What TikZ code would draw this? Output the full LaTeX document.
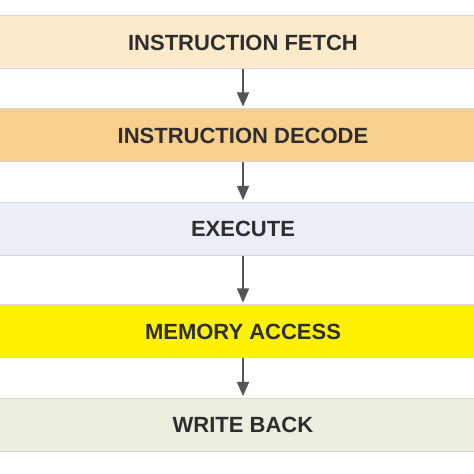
\documentclass[tikz,border=0pt]{standalone}
\usepackage{fontspec}
\setmainfont{Liberation Sans}
\usetikzlibrary{arrows.meta}
\definecolor{cfetch}{HTML}{FCEACB}
\definecolor{cdecode}{HTML}{F8D08E}
\definecolor{cexec}{HTML}{E9EEF7}
\definecolor{cmem}{HTML}{FFF200}
\definecolor{cwb}{HTML}{EAEFE0}
\definecolor{cborder}{HTML}{D4D8DC}
\definecolor{ctext}{HTML}{2E2E2E}
\definecolor{carrow}{HTML}{555555}
\newcommand{\stagetext}[1]{\hspace*{12pt}#1}
\tikzset{
  stage/.style={draw=cborder, line width=1pt, minimum width=478pt, minimum height=53pt,
    inner sep=0pt, text=ctext, font=\fontsize{22}{26}\selectfont\bfseries, anchor=center},
  flow/.style={draw=carrow, line width=1.2pt, -{Triangle[length=14pt,width=12pt]}, shorten >=2pt}
}
\begin{document}
\begin{tikzpicture}[x=1pt,y=1pt]
\useasboundingbox[fill=white] (0,0) rectangle (474,474);
\begin{scope}
\clip (0,0) rectangle (474,474);
\node[stage, fill=cfetch]  (if) at (237,474-42.5) {\stagetext{INSTRUCTION FETCH}};
\node[stage, fill=cdecode] (id) at (237,474-135.5) {\stagetext{INSTRUCTION DECODE}};
\node[stage, fill=cexec]   (ex) at (237,474-229) {\stagetext{EXECUTE}};
\node[stage, fill=cmem]    (ma) at (237,474-331.5) {\stagetext{MEMORY ACCESS}};
\node[stage, fill=cwb]     (wb) at (237,474-425) {\stagetext{WRITE BACK}};
\end{scope}
\draw[flow] (243,0 |- if.south) coordinate (a1) -- (a1 |- id.north);
\draw[flow] (243,0 |- id.south) coordinate (a2) -- (a2 |- ex.north);
\draw[flow] (243,0 |- ex.south) coordinate (a3) -- (a3 |- ma.north);
\draw[flow] (243,0 |- ma.south) coordinate (a4) -- (a4 |- wb.north);
\end{tikzpicture}
\end{document}
